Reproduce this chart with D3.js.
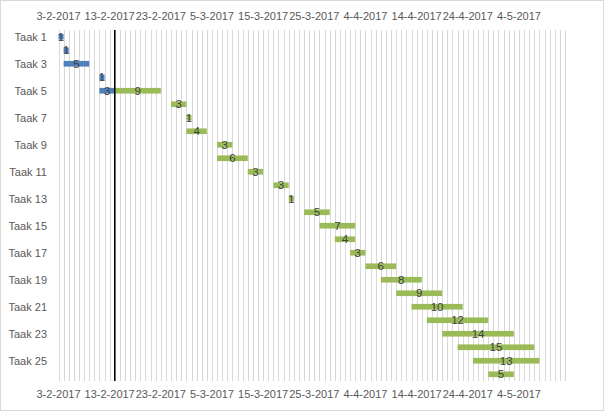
<!DOCTYPE html>
<html>
<head>
<meta charset="utf-8">
<script src="https://cdn.jsdelivr.net/npm/d3@7"></script>
<style>
  body { margin: 0; background: #fff; }
  text { font-family: 'Liberation Sans', Arial, sans-serif; }
</style>
</head>
<body>
<div id="root"></div>
<script>
// -------- data --------
const tasks = [
  'Taak 1', 'Taak 2', 'Taak 3', 'Taak 4', 'Taak 5', 'Taak 6', 'Taak 7',
  'Taak 8', 'Taak 9', 'Taak 10', 'Taak 11', 'Taak 12', 'Taak 13', 'Taak 14',
  'Taak 15', 'Taak 16', 'Taak 17', 'Taak 18', 'Taak 19', 'Taak 20', 'Taak 21',
  'Taak 22', 'Taak 23', 'Taak 24', 'Taak 25', 'Taak 26'
]
const startDates = [
  '2017-02-03', '2017-02-04', '2017-02-04', '2017-02-11', '2017-02-11',
  '2017-02-25', '2017-02-28', '2017-02-28', '2017-03-06', '2017-03-06',
  '2017-03-12', '2017-03-17', '2017-03-20', '2017-03-23', '2017-03-26',
  '2017-03-29', '2017-04-01', '2017-04-04', '2017-04-07', '2017-04-10',
  '2017-04-13', '2017-04-16', '2017-04-19', '2017-04-22', '2017-04-25',
  '2017-04-28'
]
// days done (blue) and days remaining (green)
const doneDays = [1, 1, 5, 1, 3, 0, 0, 0, 0, 0, 0, 0, 0, 0, 0, 0, 0, 0, 0, 0, 0, 0, 0, 0, 0, 0]
const todoDays = [0, 0, 0, 0, 9, 3, 1, 4, 3, 6, 3, 3, 1, 5, 7, 4, 3, 6, 8, 9, 10, 12, 14, 15, 13, 5]
const axisMin = '2017-02-03'
const axisMax = '2017-05-13'
const todayDate = '2017-02-14'
const tickDates = [
  '2017-02-03', '2017-02-13', '2017-02-23', '2017-03-05', '2017-03-15',
  '2017-03-25', '2017-04-04', '2017-04-14', '2017-04-24', '2017-05-04'
]

// -------- chart --------
const W = 605, H = 412
const margin = { top: 30, right: 40, bottom: 31, left: 58.5 }
const parse = d3.utcParse('%Y-%m-%d')
const fmt = d3.utcFormat('%-d-%-m-%Y')

const svg = d3.select('#root').append('svg')
  .attr('width', W)
  .attr('height', H)

svg.append('rect')
  .attr('x', 0.5).attr('y', 0.5)
  .attr('width', W - 2).attr('height', H - 2)
  .attr('fill', '#fff')
  .attr('stroke', '#d9d9d9')

const x = d3.scaleUtc()
  .domain([parse(axisMin), parse(axisMax)])
  .range([margin.left, W - margin.right])

const y = d3.scaleBand()
  .domain(tasks)
  .range([margin.top, H - margin.bottom])
  .paddingInner(0.58)
  .paddingOuter(0.29)

const rows = tasks.map((name, i) => {
  const start = parse(startDates[i])
  const mid = d3.utcDay.offset(start, doneDays[i])
  const end = d3.utcDay.offset(mid, todoDays[i])
  return { name, start, mid, end, done: doneDays[i], todo: todoDays[i] }
})

// day gridlines
svg.append('g')
  .selectAll('line')
  .data(d3.utcDay.range(x.domain()[0], d3.utcDay.offset(x.domain()[1], 1)))
  .join('line')
  .attr('x1', d => Math.round(x(d)) + 0.5)
  .attr('x2', d => Math.round(x(d)) + 0.5)
  .attr('y1', margin.top)
  .attr('y2', H - margin.bottom)
  .attr('stroke', '#d9d9d9')
  .attr('stroke-width', 1)

// bars
const bars = svg.append('g')

bars.selectAll('rect.done')
  .data(rows.filter(d => d.done > 0))
  .join('rect')
  .attr('class', 'done')
  .attr('x', d => x(d.start))
  .attr('width', d => x(d.mid) - x(d.start))
  .attr('y', d => y(d.name))
  .attr('height', y.bandwidth())
  .attr('fill', '#4f81bd')

bars.selectAll('rect.todo')
  .data(rows.filter(d => d.todo > 0))
  .join('rect')
  .attr('class', 'todo')
  .attr('x', d => x(d.mid))
  .attr('width', d => x(d.end) - x(d.mid))
  .attr('y', d => y(d.name))
  .attr('height', y.bandwidth())
  .attr('fill', '#9bbb59')

// today line
svg.append('line')
  .attr('x1', x(parse(todayDate)))
  .attr('x2', x(parse(todayDate)))
  .attr('y1', margin.top)
  .attr('y2', H - margin.bottom)
  .attr('stroke', '#000')
  .attr('stroke-width', 1.5)

// data labels
const labels = svg.append('g')
  .attr('font-size', 11.5)
  .attr('fill', '#404040')
  .attr('text-anchor', 'middle')

labels.selectAll('text.done')
  .data(rows.filter(d => d.done > 0))
  .join('text')
  .attr('x', d => (x(d.start) + x(d.mid)) / 2)
  .attr('y', d => y(d.name) + y.bandwidth() / 2)
  .attr('dy', '0.36em')
  .text(d => d.done)

labels.selectAll('text.todo')
  .data(rows.filter(d => d.todo > 0))
  .join('text')
  .attr('x', d => (x(d.mid) + x(d.end)) / 2)
  .attr('y', d => y(d.name) + y.bandwidth() / 2)
  .attr('dy', '0.36em')
  .text(d => d.todo)

// category labels (every other one)
svg.append('g')
  .attr('font-size', 11)
  .attr('fill', '#595959')
  .attr('text-anchor', 'end')
  .selectAll('text')
  .data(tasks.filter((d, i) => i % 2 === 0))
  .join('text')
  .attr('x', 47)
  .attr('y', d => y(d) + y.bandwidth() / 2)
  .attr('dy', '0.36em')
  .text(d => d)

// date axes, top and bottom
function dateAxis(yPos) {
  svg.append('g')
    .attr('font-size', 11)
    .attr('fill', '#595959')
    .attr('text-anchor', 'middle')
    .selectAll('text')
    .data(tickDates.map(parse))
    .join('text')
    .attr('x', d => x(d))
    .attr('y', yPos)
    .attr('dy', '0.36em')
    .text(d => fmt(d))
}
dateAxis(16)
dateAxis(394)
</script>
</body>
</html>
